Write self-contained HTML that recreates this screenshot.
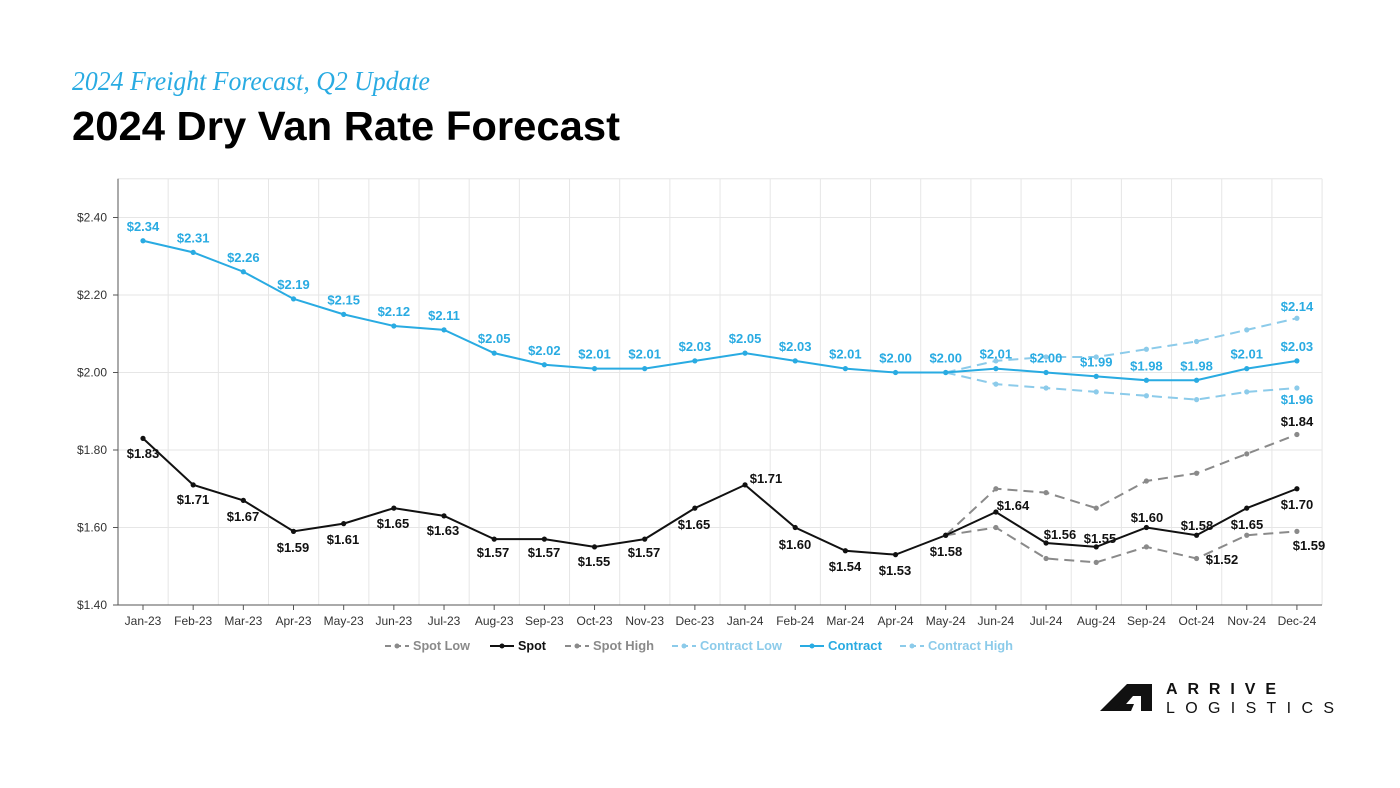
<!DOCTYPE html>
<html><head><meta charset="utf-8"><style>
body{margin:0;background:#fff;}
svg{display:block;font-family:"Liberation Sans",sans-serif;}
</style></head><body>
<svg id="s" width="1400" height="788" viewBox="0 0 1400 788" xmlns="http://www.w3.org/2000/svg">
<text x="72" y="90" font-family="Liberation Serif,serif" font-style="italic" font-size="27" fill="#29abe2" textLength="358" lengthAdjust="spacingAndGlyphs">2024 Freight Forecast, Q2 Update</text>
<text x="72" y="140" font-size="41" font-weight="bold" fill="#000" textLength="548" lengthAdjust="spacingAndGlyphs">2024 Dry Van Rate Forecast</text>
<g id="g"></g>
<!-- logo -->
<polygon points="1100,711 1127,684 1152,684 1152,711 1141,711 1141,696 1133,696 1120,711" fill="#111"/>
<polygon points="1113,711 1120,704 1134,704 1131,711" fill="#111"/>
<text x="1166" y="694" font-size="16" font-weight="bold" fill="#111" textLength="110" lengthAdjust="spacing">ARRIVE</text>
<text x="1166" y="713" font-size="16" fill="#111" textLength="168" lengthAdjust="spacing">LOGISTICS</text>
</svg>
<script>
const g=document.getElementById('g');let h='';
const X=i=>143+i*50.17, Y=v=>605-(v-1.4)*387.5;
for(let v=1.4;v<=2.51;v+=0.2){h+=`<line x1="118" x2="1322" y1="${Y(v)}" y2="${Y(v)}" stroke="#e6e6e6"/>`;}
h+=`<line x1="118" x2="1322" y1="${Y(2.5)}" y2="${Y(2.5)}" stroke="#e6e6e6"/>`;
for(let i=1;i<=24;i++){const x=118+i*50.17;h+=`<line x1="${x}" x2="${x}" y1="${Y(2.5)}" y2="605" stroke="#e6e6e6"/>`;}
h+=`<line x1="118" x2="118" y1="${Y(2.5)}" y2="605" stroke="#555"/><line x1="118" x2="1322" y1="605" y2="605" stroke="#555"/>`;
['$1.40','$1.60','$1.80','$2.00','$2.20','$2.40'].forEach((t,k)=>{const y=Y(1.4+k*0.2);h+=`<line x1="113" x2="118" y1="${y}" y2="${y}" stroke="#555"/><text x="107" y="${y+4}" font-size="12" text-anchor="end" fill="#333">${t}</text>`;});
const M=['Jan','Feb','Mar','Apr','May','Jun','Jul','Aug','Sep','Oct','Nov','Dec'];
for(let i=0;i<24;i++){const x=X(i);h+=`<line x1="${x}" x2="${x}" y1="605" y2="610" stroke="#555"/><text x="${x}" y="625" font-size="12" text-anchor="middle" fill="#333">${M[i%12]}-${i<12?23:24}</text>`;}
function line(vals,start,col,dash,w){let p=vals.map((v,k)=>`${X(start+k)},${Y(v)}`).join(' ');
h+=`<polyline points="${p}" fill="none" stroke="${col}" stroke-width="${w}" ${dash?'stroke-dasharray="10,6"':''}/>`;
vals.forEach((v,k)=>h+=`<circle cx="${X(start+k)}" cy="${Y(v)}" r="2.6" fill="${col}"/>`);}
const C=[2.34,2.31,2.26,2.19,2.15,2.12,2.11,2.05,2.02,2.01,2.01,2.03,2.05,2.03,2.01,2.00,2.00,2.01,2.00,1.99,1.98,1.98,2.01,2.03];
const S=[1.83,1.71,1.67,1.59,1.61,1.65,1.63,1.57,1.57,1.55,1.57,1.65,1.71,1.60,1.54,1.53,1.58,1.64,1.56,1.55,1.60,1.58,1.65,1.70];
line([2.00,2.03,2.04,2.04,2.06,2.08,2.11,2.14],16,'#8ccbea',1,2);
line([2.00,1.97,1.96,1.95,1.94,1.93,1.95,1.96],16,'#8ccbea',1,2);
line([1.58,1.70,1.69,1.65,1.72,1.74,1.79,1.84],16,'#8a8a8a',1,2);
line([1.58,1.60,1.52,1.51,1.55,1.52,1.58,1.59],16,'#8a8a8a',1,2);
line(C,0,'#29abe2',0,2);
line(S,0,'#111',0,2);
C.forEach((v,i)=>h+=`<text x="${X(i)}" y="${Y(v)-10}" font-size="13" font-weight="bold" text-anchor="middle" fill="#29abe2">$${v.toFixed(2)}</text>`);
h+=`<text x="1297" y="404" font-size="13" font-weight="bold" text-anchor="middle" fill="#29abe2">$1.96</text>`;
h+=`<text x="1297" y="311" font-size="13" font-weight="bold" text-anchor="middle" fill="#29abe2">$2.14</text>`;
const SL=[[143,458],[193,504],[243,521],[293,552],[343,544],[393,528],[443,535],[493,557],[544,557],[594,566],[644,557],[694,529],[766,483],[795,549],[845,571],[895,575],[946,556],[1013,510],[1060,539],[1100,543],[1147,522],[1197,530],[1247,529],[1297,509]];
S.forEach((v,i)=>h+=`<text x="${SL[i][0]}" y="${SL[i][1]}" font-size="13" font-weight="bold" text-anchor="middle" fill="#111">$${v.toFixed(2)}</text>`);
h+=`<text x="1297" y="426" font-size="13" font-weight="bold" text-anchor="middle" fill="#111">$1.84</text>`;
h+=`<text x="1309" y="550" font-size="13" font-weight="bold" text-anchor="middle" fill="#111">$1.59</text>`;
h+=`<text x="1222" y="564" font-size="13" font-weight="bold" text-anchor="middle" fill="#111">$1.52</text>`;
const L=[[385,'Spot Low','#8a8a8a',1,57],[490,'Spot','#111',0,28],[565,'Spot High','#8a8a8a',1,61],[672,'Contract Low','#8ccbea',1,82],[800,'Contract','#29abe2',0,54],[900,'Contract High','#8ccbea',1,85]];
L.forEach(([x,t,c,d,w])=>{h+=`<line x1="${x}" x2="${x+24}" y1="646" y2="646" stroke="${c}" stroke-width="2" ${d?'stroke-dasharray="6,4"':''}/><circle cx="${x+12}" cy="646" r="2.5" fill="${c}"/><text x="${x+28}" y="650" font-size="12.5" font-weight="bold" fill="${c}" textLength="${w}" lengthAdjust="spacingAndGlyphs">${t}</text>`;});
g.innerHTML=h;
</script>
</body></html>
